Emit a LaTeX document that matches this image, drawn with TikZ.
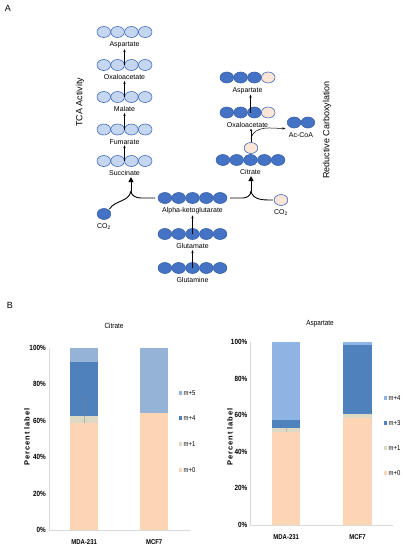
\documentclass[tikz,border=0pt]{standalone}
\usepackage{fontspec}
\setmainfont{Liberation Sans}
\newfontfamily\chartfont[FakeStretch=0.85]{Liberation Sans}
\newfontfamily\spacedfont[LetterSpace=12]{Liberation Sans}
\usetikzlibrary{matrix, positioning, arrows.meta}
\usetikzlibrary{shapes.geometric}

\definecolor{lblue}{RGB}{197,215,240}
\definecolor{dblue}{RGB}{68,114,196}
\definecolor{edge}{RGB}{62,104,184}
\definecolor{peach}{RGB}{251,229,214}
\definecolor{cmzero}{RGB}{252,213,181}
\definecolor{cmone}{RGB}{221,217,196}
\definecolor{cdark}{RGB}{79,129,189}
\definecolor{clight}{RGB}{149,179,215}
\definecolor{clighter}{RGB}{141,180,226}
\definecolor{axisgray}{RGB}{217,217,217}

\tikzset{
	atom/.style={ellipse, draw=edge, line width=0.6pt, minimum width=13.6pt, minimum height=11pt, inner sep=0pt},
	lb/.style={atom, fill=lblue},
	db/.style={atom, fill=dblue, draw=dblue!85!black},
	pk/.style={atom, fill=peach},
	circrow/.style={matrix of nodes, nodes in empty cells, nodes={#1}, column sep=-0.4pt, inner sep=0pt},
	lbl/.style={font=\fontsize{7}{8}\selectfont, inner sep=1pt},
	arr/.style={-{Stealth[length=3pt,width=2.4pt]}, line width=0.5pt},
	bigarr/.style={-{Triangle[length=5pt,width=5pt]}, line width=0.9pt},
	ticklbl/.style={font=\chartfont\bfseries\fontsize{7.5}{8}\selectfont, inner sep=0pt, anchor=east},
	catlbl/.style={font=\chartfont\bfseries\fontsize{7}{8}\selectfont, inner sep=0pt},
	charttitle/.style={font=\chartfont\fontsize{7.5}{8}\selectfont, inner sep=0pt},
	ytitle/.style={font=\spacedfont\bfseries\fontsize{7.5}{8}\selectfont, rotate=90, inner sep=0pt},
	legsq/.style={minimum width=3pt, minimum height=4pt, inner sep=0pt},
	leglbl/.style={font=\chartfont\fontsize{7}{8}\selectfont, inner sep=0pt, anchor=west},
}

\begin{document}
\begin{tikzpicture}[x=1pt,y=-1pt]
	\useasboundingbox (0,0) rectangle (403,550);
	\node[font=\fontsize{9}{10}\selectfont] (panA) at (8,8) {A};
	\node[font=\fontsize{9}{10}\selectfont] (panB) at (10,305) {B};

	% TCA activity column
	\matrix (tasp) [circrow=lb] at (124.5,32) { & & & \\ };
	\matrix (toaa) [circrow=lb] at (124.5,65) { & & & \\ };
	\matrix (tmal) [circrow=lb] at (124.5,97) { & & & \\ };
	\matrix (tfum) [circrow=lb] at (124.5,129.5) { & & & \\ };
	\matrix (tsuc) [circrow=lb] at (124.5,161) { & & & \\ };
	\node[lbl, below=2.5pt of tasp] (taspl) {Aspartate};
	\node[lbl, below=2.5pt of toaa] (toaal) {Oxaloacetate};
	\node[lbl, below=2.5pt of tmal] (tmall) {Malate};
	\node[lbl, below=2.5pt of tfum] (tfuml) {Fumarate};
	\node[lbl, below=2.5pt of tsuc] (tsucl) {Succinate};
	\draw[arr] (toaa.center) -- (taspl.south);
	\draw[arr] (tmal.center) -- (toaal.south);
	\draw[arr] (tfum.center) -- (tmall.south);
	\draw[arr] (tsuc.center) -- (tfuml.south);
	\node[rotate=90, font=\fontsize{9}{10}\selectfont] (tcat) at (80,102) {TCA Activity};

	% reductive carboxylation column
	\matrix (rasp) [circrow=db] at (247.5,77.5) { & & & |[pk]| \\ };
	\matrix (roaa) [circrow=db] at (247.5,112.5) { & & & |[pk]| \\ };
	\node[pk] (rcitx) at (251,148) {};
	\matrix (rcit) [circrow=db] at (250.5,160) { & & & & \\ };
	\matrix (racoa) [circrow=db] at (301,122.5) { & \\ };
	\node[lbl, below=2.5pt of rasp] (raspl) {Aspartate};
	\node[lbl, below=2.5pt of roaa] (roaal) {Oxaloacetate};
	\node[lbl, below=2.5pt of rcit] (rcitl) {Citrate};
	\node[lbl, below=2.5pt of racoa] (racoal) {Ac-CoA};
	\draw[arr] (roaa.center -| rcit.center) -- (raspl.south -| rcit.center);
	\draw[arr] (rcitx.north) -- (roaal.south -| rcitx.north);
	\coordinate (acfork) at (251,138.5);
	\draw[arr, shorten >=1.5pt] (acfork) to[out=75,in=180] (racoa.south west);
	\node[rotate=90, font=\fontsize{9}{10}\selectfont] (redt) at (327,130) {Reductive Carboxylation};

	% glutamine to alpha-ketoglutarate
	\matrix (akg) [circrow=db] at (192.5,198) { & & & & \\ };
	\matrix (glu) [circrow=db] at (192.5,234) { & & & & \\ };
	\matrix (gln) [circrow=db] at (192.5,268) { & & & & \\ };
	\node[lbl, below=2.5pt of akg] (akgl) {Alpha-ketoglutarate};
	\node[lbl, below=2.5pt of glu] (glul) {Glutamate};
	\node[lbl, below=2.5pt of gln] (glnl) {Glutamine};
	\draw[arr] (glu.center) -- (akgl.south);
	\draw[arr] (gln.center) -- (glul.south);

	% CO2 branches
	\node[db] (co2a) at (104,214) {};
	\node[pk] (co2b) at (281,200) {};
	\node[lbl, below=2.5pt of co2a] (co2al) {CO\textsubscript{2}};
	\node[lbl, below=2.5pt of co2b] (co2bl) {CO\textsubscript{2}};
	\coordinate (jl) at (131,191);
	\coordinate (jr) at (251,191);
	\draw[line width=0.9pt, shorten <=2.5pt] (akg.west) -- (141,198) to[out=180,in=-90] (jl);
	\draw[line width=0.9pt, shorten <=1pt] (co2a.north east) to[out=60,in=-100] (jl);
	\draw[bigarr] (jl) -- (tsucl.south -| jl);
	\draw[line width=0.9pt, shorten <=2.5pt] (akg.east) -- (243,198) to[out=0,in=-90] (jr);
	\draw[line width=0.9pt, shorten <=1pt] (co2b.west) to[out=180,in=-80] (jr);
	\draw[bigarr] (jr) -- (rcitl.south -| jr);

	% citrate chart
	\begin{scope}[shift={(0,530)}, y=1.82pt]
		\fill[cmzero] (70,0) rectangle (98.3,58.6);
		\fill[cmone] (70,58.6) rectangle (98.3,62.8);
		\fill[cdark] (70,62.8) rectangle (98.3,92.5);
		\fill[clight] (70,92.5) rectangle (98.3,100);
		\draw[gray, opacity=0.45, line width=0.4pt] (84.2,58.6) -- (84.2,73);
		\fill[cmzero] (140,0) rectangle (168.3,64.4);
		\fill[clight] (140,64.4) rectangle (168.3,100);
		\draw[axisgray, line width=0.5pt] (49,100) -- (49,0) -- (190,0);
		\foreach \p in {0,20,...,100}
			\node[ticklbl] at (46,\p) {\p\%};
		\node[catlbl] (cmda) at (84.2,-6.6) {MDA-231};
		\node[catlbl] (cmcf) at (154.2,-6.6) {MCF7};
		\node[charttitle] (ctit) at (114,112.1) {Citrate};
		\node[ytitle] (cyt) at (27,51.1) {Percent label};
		\foreach \c/\t/\y in {clight/m+5/75.3, cdark/m+4/61.5, cmone/m+1/47.3, cmzero/m+0/33.0} {
			\node[legsq, fill=\c] at (180.5,\y) {};
			\node[leglbl] at (183.5,\y) {\t};
		}
	\end{scope}

	% aspartate chart
	\begin{scope}[shift={(0,525)}, y=1.83pt]
		\fill[cmzero] (272.3,0) rectangle (300,51);
		\fill[cmone] (272.3,51) rectangle (300,53.2);
		\fill[cdark] (272.3,53.2) rectangle (300,57.2);
		\fill[clighter] (272.3,57.2) rectangle (300,100);
		\draw[gray, opacity=0.4, line width=0.4pt] (286.2,51) -- (286.2,54);
		\fill[cmzero] (343.3,0) rectangle (371.7,58.6);
		\fill[cmone] (343.3,58.6) rectangle (371.7,60.8);
		\fill[cdark] (343.3,60.8) rectangle (371.7,98.4);
		\fill[clighter] (343.3,98.4) rectangle (371.7,100);
		\draw[axisgray, line width=0.5pt] (250,100) -- (250,0) -- (393,0);
		\foreach \p in {0,20,...,100}
			\node[ticklbl] at (247.5,\p) {\p\%};
		\node[catlbl] (amda) at (286.2,-6.6) {MDA-231};
		\node[catlbl] (amcf) at (357.5,-6.6) {MCF7};
		\node[charttitle] (atit) at (320,109.8) {Aspartate};
		\node[ytitle] (ayt) at (230,48.1) {Percent label};
		\foreach \c/\t/\y in {clighter/m+4/69.4, cdark/m+3/55.7, cmone/m+1/42.1, cmzero/m+0/28.4} {
			\node[legsq, fill=\c] at (385.5,\y) {};
			\node[leglbl] at (388.5,\y) {\t};
		}
	\end{scope}
\end{tikzpicture}
\end{document}
